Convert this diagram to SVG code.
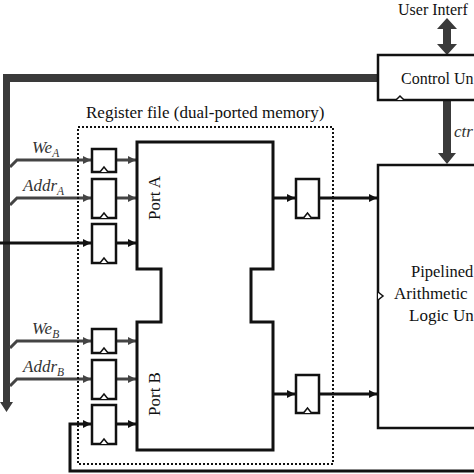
<svg xmlns="http://www.w3.org/2000/svg" width="474" height="474" viewBox="0 0 474 474">
<style>
text{font-family:"Liberation Serif","Times New Roman",serif;font-size:17px;fill:#111}
.it{font-style:italic;fill:#333}
.sub{font-size:11.5px}
.reg{fill:#fff;stroke:#111;stroke-width:2.5}
.clk{fill:#fff;stroke:#111;stroke-width:1.5}
.blk{fill:none;stroke:#111;stroke-width:3}
.gry{fill:none;stroke:#444;stroke-width:3}
.bus{fill:#3a3a3a}
</style>
<defs>
<marker id="ak" viewBox="0 0 10 10" refX="10" refY="5" markerWidth="9" markerHeight="8" orient="auto" markerUnits="userSpaceOnUse"><path d="M0,0 L10,5 L0,10 z" fill="#111"/></marker>
<marker id="ag" viewBox="0 0 10 10" refX="10" refY="5" markerWidth="9" markerHeight="8" orient="auto" markerUnits="userSpaceOnUse"><path d="M0,0 L10,5 L0,10 z" fill="#444"/></marker>
</defs>

<g id="connectors">
<path class="bus" d="M3,74 H378 V82 H10 V402 H13 L6.5,412 L0,402 H3 Z"/>
<path class="bus" d="M447,18 L457,29 H451 V44 H457 L447,55 L437,44 H443 V29 H437 Z"/>
<path class="bus" d="M443,101 H451 V153 H456 L447,164 L438,153 H443 Z"/>
<path class="gry" d="M10,167 L17,160 H91" marker-end="url(#ag)"/>
<path class="gry" d="M10,205 L17,198 H91" marker-end="url(#ag)"/>
<path class="gry" d="M10,348 L17,341 H91" marker-end="url(#ag)"/>
<path class="gry" d="M10,386 L17,379 H91" marker-end="url(#ag)"/>
<path class="blk" d="M0,243 H91" marker-end="url(#ak)"/>
<path class="blk" d="M474,471 H70 V424 H91" marker-end="url(#ak)"/>
<path class="gry" d="M116,160 H136" marker-end="url(#ag)"/>
<path class="gry" d="M116,198 H136" marker-end="url(#ag)"/>
<path class="blk" d="M116,243 H136" marker-end="url(#ak)"/>
<path class="gry" d="M116,341 H136" marker-end="url(#ag)"/>
<path class="gry" d="M116,379 H136" marker-end="url(#ag)"/>
<path class="blk" d="M116,424 H136" marker-end="url(#ak)"/>
<path class="blk" d="M273,198 H295" marker-end="url(#ak)"/>
<path class="blk" d="M319,198 H377" marker-end="url(#ak)"/>
<path class="blk" d="M273,394 H295" marker-end="url(#ak)"/>
<path class="blk" d="M319,394 H377" marker-end="url(#ak)"/>
</g>

<g id="register-file">
<rect x="78" y="127" width="255" height="337" fill="none" stroke="#111" stroke-width="2" stroke-dasharray="2 2"/>
<text x="86" y="118">Register file (dual-ported memory)</text>
</g>

<g id="memory">
<path class="blk" d="M137,142 H273 V269 H251 V322 H273 V450 H137 V322 H161 V269 H137 Z"/>
<text transform="translate(160,198) rotate(-90)" text-anchor="middle">Port A</text>
<text transform="translate(160,394) rotate(-90)" text-anchor="middle">Port B</text>
</g>

<g id="regs-a">
<rect class="reg" x="92" y="149" width="24" height="23"/>
<path class="clk" d="M100,172 L104,167 L108,172"/>
<rect class="reg" x="92" y="179" width="24" height="39"/>
<path class="clk" d="M100,218 L104,213 L108,218"/>
<rect class="reg" x="92" y="224" width="24" height="39"/>
<path class="clk" d="M100,263 L104,258 L108,263"/>
</g>
<g id="regs-b">
<rect class="reg" x="92" y="329" width="24" height="24"/>
<path class="clk" d="M100,353 L104,348 L108,353"/>
<rect class="reg" x="92" y="360" width="24" height="39"/>
<path class="clk" d="M100,399 L104,394 L108,399"/>
<rect class="reg" x="92" y="405" width="24" height="39"/>
<path class="clk" d="M100,444 L104,439 L108,444"/>
</g>
<g id="regs-out">
<rect class="reg" x="296" y="179" width="23" height="39"/>
<path class="clk" d="M303.5,218 L307.5,213 L311.5,218"/>
<rect class="reg" x="296" y="375" width="23" height="38"/>
<path class="clk" d="M303.5,413 L307.5,408 L311.5,413"/>
</g>

<g id="labels">
<text class="it" x="32" y="153">We<tspan class="sub" dy="4">A</tspan></text>
<text class="it" x="23" y="191">Addr<tspan class="sub" dy="4">A</tspan></text>
<text class="it" x="32" y="334">We<tspan class="sub" dy="4">B</tspan></text>
<text class="it" x="23" y="372">Addr<tspan class="sub" dy="4">B</tspan></text>
</g>

<g id="user-interface">
<text x="398" y="15" style="font-size:16px">User Interf</text>
</g>

<g id="control-unit">
<rect x="378" y="55" width="110" height="45" fill="#fff" stroke="#111" stroke-width="2.5"/>
<path class="clk" d="M396,100 L400,96 L404,100"/>
<text x="401" y="84" style="font-size:16px">Control Un</text>
<text class="it" x="454" y="137">ctr</text>
</g>

<g id="alu">
<rect x="378" y="165" width="110" height="263" fill="#fff" stroke="#111" stroke-width="2.5"/>
<path class="clk" d="M378,292 L383,296 L378,300"/>
<text x="411" y="277" style="font-size:16.5px">Pipelined</text>
<text x="394" y="299">Arithmetic</text>
<text x="409" y="321">Logic Un</text>
</g>
</svg>
